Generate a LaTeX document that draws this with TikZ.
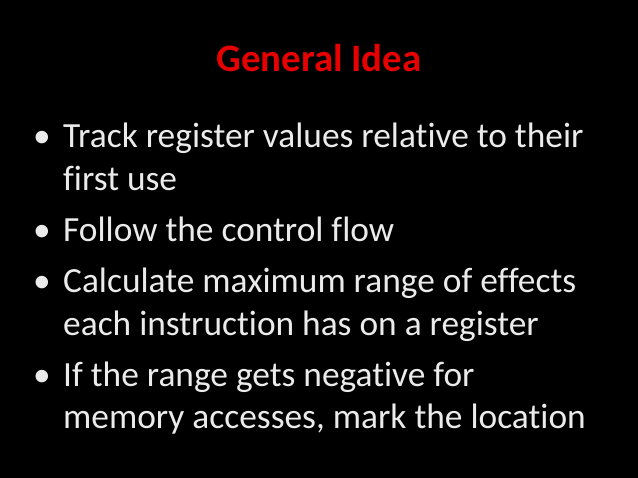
\documentclass[tikz,border=0pt]{standalone}
\usepackage{fontspec}
\setmainfont[Ligatures=NoCommon]{Carlito}
\definecolor{titlered}{RGB}{230,0,0}
\definecolor{bodytext}{RGB}{235,235,235}
\begin{document}
\begin{tikzpicture}[x=1bp,y=1bp,
  bodytxt/.style={anchor=base west,inner sep=0pt,text=bodytext,font=\fontsize{35.5}{43}\selectfont},
  bul/.style={anchor=base,inner sep=0pt,text=bodytext,font=\fontsize{35.5}{43}\selectfont}]
\fill[black] (0,0) rectangle (638,478);
\useasboundingbox (0,0) rectangle (638,478);
\node[anchor=base,inner sep=0pt,text=titlered,font=\fontsize{39}{44}\selectfont\bfseries] (title) at (319,478-72) {General Idea};
\node[bodytxt] (l1) at (63,478-148) {Track register values relative to their};
\node[bodytxt] (l2) at (63,478-191) {first use};
\node[bodytxt] (l3) at (63,478-242) {Follow the control flow};
\node[bodytxt] (l4) at (63,478-293) {Calculate maximum range of effects};
\node[bodytxt] (l5) at (63,478-336) {each instruction has on a register};
\node[bodytxt] (l6) at (63,478-387) {If the range gets negative for};
\node[bodytxt] (l7) at (63,478-429) {memory accesses, mark the location};
\foreach \n/\y in {d1/148,d2/242,d3/293,d4/387}
  \node[bul] (\n) at (42,478-\y) {•};
\end{tikzpicture}
\end{document}
